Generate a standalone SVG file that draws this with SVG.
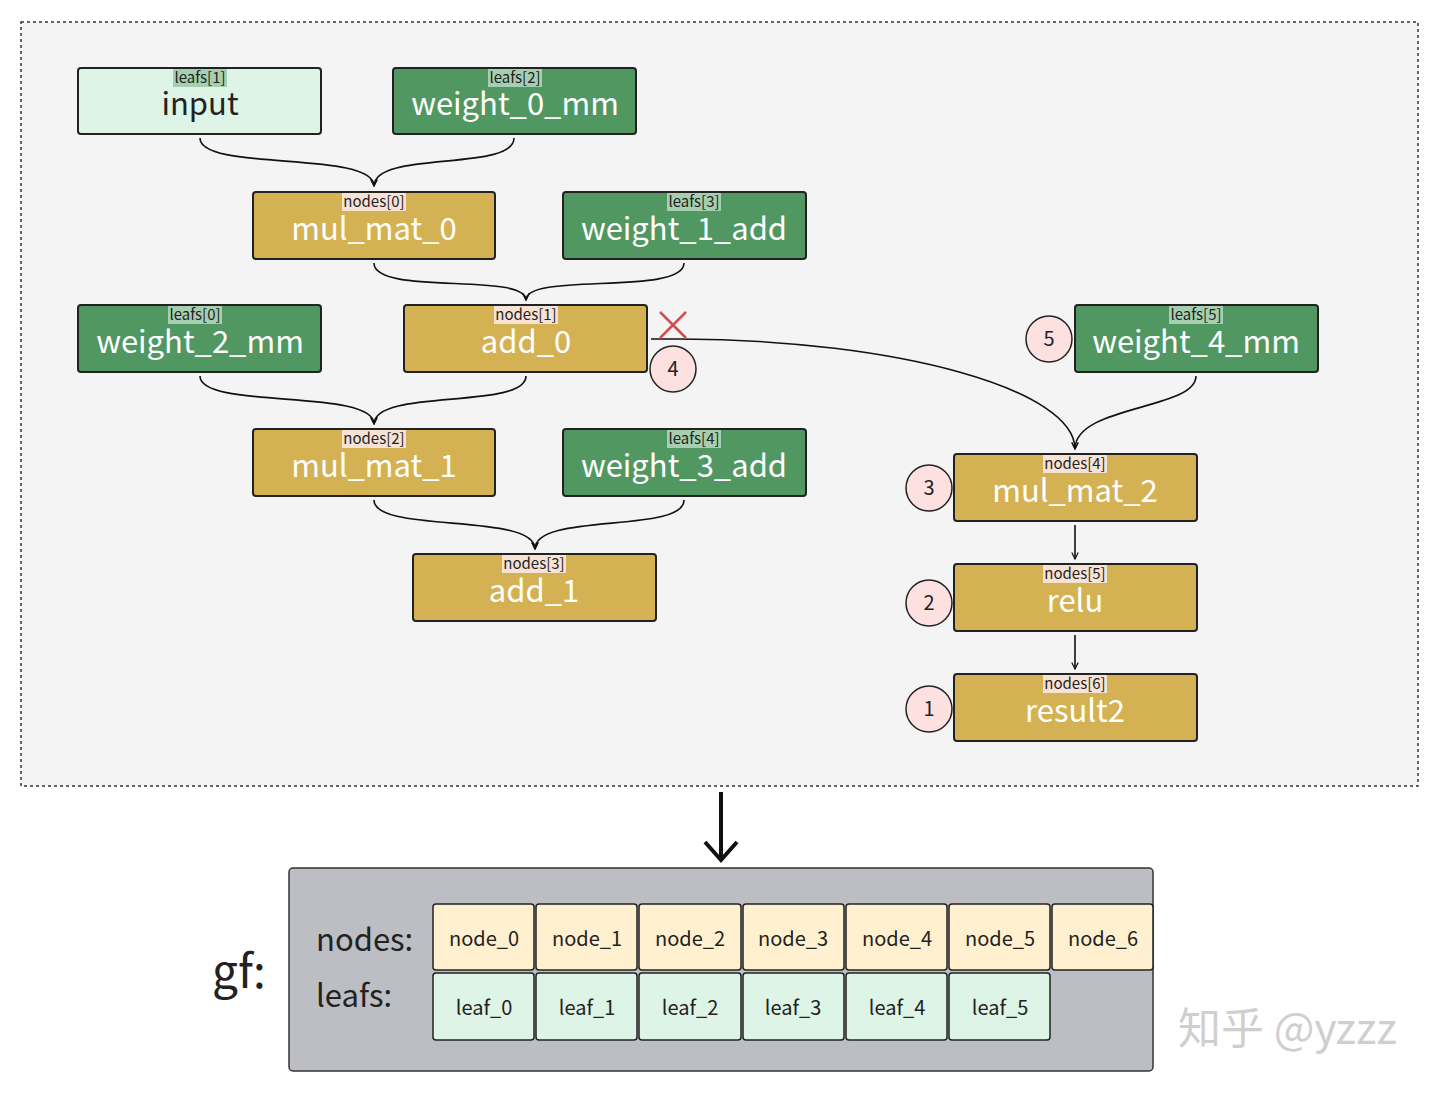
<svg xmlns="http://www.w3.org/2000/svg" width="1440" height="1094" viewBox="0 0 1440 1094">
<style>
text{font-family:"Noto Sans CJK SC","Noto Sans",sans-serif}
.box{stroke:#222;stroke-width:2}
.op{fill:#d4b254}.w{fill:#509762}.in{fill:#def4e6}
.lbl{font-size:31px;fill:#fff;text-anchor:middle}
.dk{fill:#222}
.tag{font-size:15px;fill:#222;text-anchor:middle}
.tn{fill:#f7e2d6}.tl{fill:#a5cfaf}
.c{fill:#fde0e0;stroke:#222;stroke-width:1.5}
.cn{font-size:20px;fill:#222;text-anchor:middle}
.e{fill:none;stroke:#111;stroke-width:1.6;marker-end:url(#a)}
.cell{stroke:#222;stroke-width:1.5}
.ct{font-size:20px;fill:#222;text-anchor:middle}
</style>
<defs>
<marker id="a" viewBox="0 0 10 10" refX="9" refY="5" markerWidth="8" markerHeight="8" orient="auto" markerUnits="userSpaceOnUse"><path d="M1,1 L9,5 L1,9" fill="none" stroke="#111" stroke-width="1.5"/></marker>
</defs>
<rect width="1440" height="1094" fill="#fff"/>
<rect x="21" y="22" width="1397" height="764" fill="#f4f4f4" stroke="#333" stroke-width="1.5" stroke-dasharray="3,3"/>
<g id="connectors">
<path class="e" d="M200,138 C200,172 374,150 374,186"/>
<path class="e" d="M514,138 C514,172 374,150 374,186"/>
<path class="e" d="M374,263 C374,296 526,272 526,300"/>
<path class="e" d="M684,263 C684,296 526,272 526,300"/>
<path class="e" d="M200,376 C200,410 374,388 374,424"/>
<path class="e" d="M526,376 C526,410 374,388 374,424"/>
<path class="e" d="M374,500 C374,534 535,512 535,549"/>
<path class="e" d="M684,500 C684,534 535,512 535,549"/>
<path class="e" d="M651,339 L680,339 C900,340 1075,390 1075,449"/>
<path class="e" d="M1196,376 C1196,410 1075,405 1075,449"/>
<path class="e" d="M1075,525 L1075,559"/>
<path class="e" d="M1075,635 L1075,669"/>
<path d="M660,312 L686,338 M686,312 L660,338" stroke="#d05050" stroke-width="2.5"/>
<path d="M721,792 L721,858 M705,842 L721,860 L737,842" fill="none" stroke="#111" stroke-width="4"/>
</g>
<g id="n-input"><rect class="box in" x="78" y="68" width="243" height="66" rx="3"/><rect class="tl" x="173" y="69" width="54" height="18"/><text class="tag" x="200" y="83">leafs[1]</text><text class="lbl dk" x="200" y="115">input</text></g>
<g id="n-w0"><rect class="box w" x="393" y="68" width="243" height="66" rx="3"/><rect class="tl" x="488" y="69" width="54" height="18"/><text class="tag" x="515" y="83">leafs[2]</text><text class="lbl" x="515" y="115">weight_0_mm</text></g>
<g id="n-mm0"><rect class="box op" x="253" y="192" width="242" height="67" rx="3"/><rect class="tn" x="342" y="193" width="64" height="18"/><text class="tag" x="374" y="207">nodes[0]</text><text class="lbl" x="374" y="240">mul_mat_0</text></g>
<g id="n-w1"><rect class="box w" x="563" y="192" width="243" height="67" rx="3"/><rect class="tl" x="667" y="193" width="54" height="18"/><text class="tag" x="694" y="207">leafs[3]</text><text class="lbl" x="684" y="240">weight_1_add</text></g>
<g id="n-w2"><rect class="box w" x="78" y="305" width="243" height="67" rx="3"/><rect class="tl" x="168" y="306" width="54" height="18"/><text class="tag" x="195" y="320">leafs[0]</text><text class="lbl" x="200" y="353">weight_2_mm</text></g>
<g id="n-add0"><rect class="box op" x="404" y="305" width="243" height="67" rx="3"/><rect class="tn" x="494" y="306" width="64" height="18"/><text class="tag" x="526" y="320">nodes[1]</text><text class="lbl" x="526" y="353">add_0</text></g>
<g id="n-w4"><rect class="box w" x="1075" y="305" width="243" height="67" rx="3"/><rect class="tl" x="1169" y="306" width="54" height="18"/><text class="tag" x="1196" y="320">leafs[5]</text><text class="lbl" x="1196" y="353">weight_4_mm</text></g>
<g id="n-mm1"><rect class="box op" x="253" y="429" width="242" height="67" rx="3"/><rect class="tn" x="342" y="430" width="64" height="18"/><text class="tag" x="374" y="444">nodes[2]</text><text class="lbl" x="374" y="477">mul_mat_1</text></g>
<g id="n-w3"><rect class="box w" x="563" y="429" width="243" height="67" rx="3"/><rect class="tl" x="667" y="430" width="54" height="18"/><text class="tag" x="694" y="444">leafs[4]</text><text class="lbl" x="684" y="477">weight_3_add</text></g>
<g id="n-add1"><rect class="box op" x="413" y="554" width="243" height="67" rx="3"/><rect class="tn" x="502" y="555" width="64" height="18"/><text class="tag" x="534" y="569">nodes[3]</text><text class="lbl" x="534" y="602">add_1</text></g>
<g id="n-mm2"><rect class="box op" x="954" y="454" width="243" height="67" rx="3"/><rect class="tn" x="1043" y="455" width="64" height="18"/><text class="tag" x="1075" y="469">nodes[4]</text><text class="lbl" x="1075" y="502">mul_mat_2</text></g>
<g id="n-relu"><rect class="box op" x="954" y="564" width="243" height="67" rx="3"/><rect class="tn" x="1043" y="565" width="64" height="18"/><text class="tag" x="1075" y="579">nodes[5]</text><text class="lbl" x="1075" y="612">relu</text></g>
<g id="n-res"><rect class="box op" x="954" y="674" width="243" height="67" rx="3"/><rect class="tn" x="1043" y="675" width="64" height="18"/><text class="tag" x="1075" y="689">nodes[6]</text><text class="lbl" x="1075" y="722">result2</text></g>
<g id="c5"><circle class="c" cx="1049" cy="339" r="23"/><text class="cn" x="1049" y="346">5</text></g>
<g id="c4"><circle class="c" cx="673" cy="369" r="23"/><text class="cn" x="673" y="376">4</text></g>
<g id="c3"><circle class="c" cx="929" cy="488" r="23"/><text class="cn" x="929" y="495">3</text></g>
<g id="c2"><circle class="c" cx="929" cy="603" r="23"/><text class="cn" x="929" y="610">2</text></g>
<g id="c1"><circle class="c" cx="929" cy="709" r="23"/><text class="cn" x="929" y="716">1</text></g>
<g id="gf">
<rect x="289" y="868" width="864" height="203" rx="4" fill="#bcbec3" stroke="#333" stroke-width="1.5"/>
<text x="212" y="988" font-size="46" fill="#222">gf:</text>
<text x="316" y="951" font-size="31" fill="#222">nodes:</text>
<text x="316" y="1007" font-size="31" fill="#222">leafs:</text>
<g fill="#fff1cf">
<rect class="cell" x="433" y="904" width="101" height="66" rx="3"/><rect class="cell" x="536" y="904" width="101" height="66" rx="3"/><rect class="cell" x="639" y="904" width="102" height="66" rx="3"/><rect class="cell" x="743" y="904" width="101" height="66" rx="3"/><rect class="cell" x="846" y="904" width="101" height="66" rx="3"/><rect class="cell" x="949" y="904" width="101" height="66" rx="3"/><rect class="cell" x="1052" y="904" width="101" height="66" rx="3"/>
</g>
<g fill="#def4e6">
<rect class="cell" x="433" y="973" width="101" height="67" rx="3"/><rect class="cell" x="536" y="973" width="101" height="67" rx="3"/><rect class="cell" x="639" y="973" width="102" height="67" rx="3"/><rect class="cell" x="743" y="973" width="101" height="67" rx="3"/><rect class="cell" x="846" y="973" width="101" height="67" rx="3"/><rect class="cell" x="949" y="973" width="101" height="67" rx="3"/>
</g>
<text class="ct" x="484" y="946">node_0</text><text class="ct" x="587" y="946">node_1</text><text class="ct" x="690" y="946">node_2</text><text class="ct" x="793" y="946">node_3</text><text class="ct" x="897" y="946">node_4</text><text class="ct" x="1000" y="946">node_5</text><text class="ct" x="1103" y="946">node_6</text>
<text class="ct" x="484" y="1015">leaf_0</text><text class="ct" x="587" y="1015">leaf_1</text><text class="ct" x="690" y="1015">leaf_2</text><text class="ct" x="793" y="1015">leaf_3</text><text class="ct" x="897" y="1015">leaf_4</text><text class="ct" x="1000" y="1015">leaf_5</text>
</g>
<text x="1178" y="1044" font-size="43" fill="#cfcfcf">知乎 @yzzz</text>
</svg>
